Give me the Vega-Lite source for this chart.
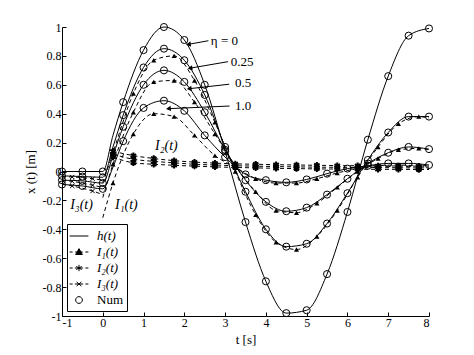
{
  "$schema": "https://vega.github.io/schema/vega-lite/v6.json",
  "width": 367,
  "height": 289,
  "autosize": "none",
  "padding": {"left": 62, "top": 27, "right": 45, "bottom": 39},
  "config": {
    "view": {"stroke": null},
    "font": "Liberation Serif, Times New Roman, serif",
    "axis": {
      "grid": false,
      "domainColor": "black",
      "tickColor": "black",
      "labelColor": "black",
      "titleColor": "black",
      "labelFont": "Liberation Serif, Times New Roman, serif",
      "titleFont": "Liberation Serif, Times New Roman, serif",
      "labelFontSize": 12,
      "titleFontSize": 13,
      "titleFontWeight": "normal",
      "tickSize": -4,
      "labelPadding": 5
    }
  },
  "datasets": {
    "h": [
      {"eta": "0", "t": -1, "v": 0}, {"eta": "0", "t": -0.5, "v": 0}, {"eta": "0", "t": 0, "v": 0}, {"eta": "0", "t": 0.25, "v": 0.25},
      {"eta": "0", "t": 0.5, "v": 0.48}, {"eta": "0", "t": 1, "v": 0.84}, {"eta": "0", "t": 1.5, "v": 1.0}, {"eta": "0", "t": 2, "v": 0.91},
      {"eta": "0", "t": 2.5, "v": 0.6}, {"eta": "0", "t": 3, "v": 0.14}, {"eta": "0", "t": 3.5, "v": -0.35}, {"eta": "0", "t": 4, "v": -0.76},
      {"eta": "0", "t": 4.5, "v": -0.98}, {"eta": "0", "t": 5, "v": -0.96}, {"eta": "0", "t": 5.5, "v": -0.71}, {"eta": "0", "t": 6, "v": -0.28},
      {"eta": "0", "t": 6.5, "v": 0.22}, {"eta": "0", "t": 7, "v": 0.66}, {"eta": "0", "t": 7.5, "v": 0.94}, {"eta": "0", "t": 8, "v": 0.99},

      {"eta": "0.25", "t": -1, "v": -0.03}, {"eta": "0.25", "t": -0.5, "v": -0.035}, {"eta": "0.25", "t": 0, "v": -0.04}, {"eta": "0.25", "t": 0.25, "v": 0.17},
      {"eta": "0.25", "t": 0.5, "v": 0.39}, {"eta": "0.25", "t": 1, "v": 0.72}, {"eta": "0.25", "t": 1.5, "v": 0.85}, {"eta": "0.25", "t": 2, "v": 0.77},
      {"eta": "0.25", "t": 2.5, "v": 0.53}, {"eta": "0.25", "t": 3, "v": 0.17}, {"eta": "0.25", "t": 3.5, "v": -0.14}, {"eta": "0.25", "t": 4, "v": -0.4},
      {"eta": "0.25", "t": 4.5, "v": -0.52}, {"eta": "0.25", "t": 5, "v": -0.5}, {"eta": "0.25", "t": 5.5, "v": -0.36}, {"eta": "0.25", "t": 6, "v": -0.15},
      {"eta": "0.25", "t": 6.5, "v": 0.08}, {"eta": "0.25", "t": 7, "v": 0.27}, {"eta": "0.25", "t": 7.5, "v": 0.38}, {"eta": "0.25", "t": 8, "v": 0.38},

      {"eta": "0.5", "t": -1, "v": -0.06}, {"eta": "0.5", "t": -0.5, "v": -0.065}, {"eta": "0.5", "t": 0, "v": -0.08}, {"eta": "0.5", "t": 0.25, "v": 0.11},
      {"eta": "0.5", "t": 0.5, "v": 0.31}, {"eta": "0.5", "t": 1, "v": 0.6}, {"eta": "0.5", "t": 1.5, "v": 0.7}, {"eta": "0.5", "t": 2, "v": 0.62},
      {"eta": "0.5", "t": 2.5, "v": 0.41}, {"eta": "0.5", "t": 3, "v": 0.15}, {"eta": "0.5", "t": 3.5, "v": -0.06}, {"eta": "0.5", "t": 4, "v": -0.21},
      {"eta": "0.5", "t": 4.5, "v": -0.275}, {"eta": "0.5", "t": 5, "v": -0.25}, {"eta": "0.5", "t": 5.5, "v": -0.16}, {"eta": "0.5", "t": 6, "v": -0.05},
      {"eta": "0.5", "t": 6.5, "v": 0.055}, {"eta": "0.5", "t": 7, "v": 0.13}, {"eta": "0.5", "t": 7.5, "v": 0.17}, {"eta": "0.5", "t": 8, "v": 0.155},

      {"eta": "1.0", "t": -1, "v": -0.09}, {"eta": "1.0", "t": -0.5, "v": -0.1}, {"eta": "1.0", "t": 0, "v": -0.12}, {"eta": "1.0", "t": 0.25, "v": 0.03},
      {"eta": "1.0", "t": 0.5, "v": 0.21}, {"eta": "1.0", "t": 1, "v": 0.44}, {"eta": "1.0", "t": 1.5, "v": 0.49}, {"eta": "1.0", "t": 2, "v": 0.42},
      {"eta": "1.0", "t": 2.5, "v": 0.25}, {"eta": "1.0", "t": 3, "v": 0.1}, {"eta": "1.0", "t": 3.5, "v": -0.02}, {"eta": "1.0", "t": 4, "v": -0.06},
      {"eta": "1.0", "t": 4.5, "v": -0.075}, {"eta": "1.0", "t": 5, "v": -0.055}, {"eta": "1.0", "t": 5.5, "v": -0.015}, {"eta": "1.0", "t": 6, "v": 0.02},
      {"eta": "1.0", "t": 6.5, "v": 0.04}, {"eta": "1.0", "t": 7, "v": 0.056}, {"eta": "1.0", "t": 7.5, "v": 0.056}, {"eta": "1.0", "t": 8, "v": 0.045}
    ],
    "i1": [
      {"eta": "0.25", "t": 0, "v": -0.08}, {"eta": "0.25", "t": 0.25, "v": 0.13}, {"eta": "0.25", "t": 0.75, "v": 0.54}, {"eta": "0.25", "t": 1.25, "v": 0.77},
      {"eta": "0.25", "t": 1.75, "v": 0.8}, {"eta": "0.25", "t": 2.25, "v": 0.63}, {"eta": "0.25", "t": 2.75, "v": 0.34}, {"eta": "0.25", "t": 3.25, "v": 0.0},
      {"eta": "0.25", "t": 3.75, "v": -0.3}, {"eta": "0.25", "t": 4.25, "v": -0.49}, {"eta": "0.25", "t": 4.75, "v": -0.54}, {"eta": "0.25", "t": 5.25, "v": -0.45},
      {"eta": "0.25", "t": 5.75, "v": -0.27}, {"eta": "0.25", "t": 6.25, "v": -0.04}, {"eta": "0.25", "t": 6.75, "v": 0.17}, {"eta": "0.25", "t": 7.25, "v": 0.33},
      {"eta": "0.25", "t": 7.75, "v": 0.38}, {"eta": "0.25", "t": 8, "v": 0.37},

      {"eta": "0.5", "t": 0, "v": -0.18}, {"eta": "0.5", "t": 0.25, "v": 0.05}, {"eta": "0.5", "t": 0.75, "v": 0.41}, {"eta": "0.5", "t": 1.25, "v": 0.62},
      {"eta": "0.5", "t": 1.75, "v": 0.63}, {"eta": "0.5", "t": 2.25, "v": 0.48}, {"eta": "0.5", "t": 2.75, "v": 0.26}, {"eta": "0.5", "t": 3.25, "v": 0.04},
      {"eta": "0.5", "t": 3.75, "v": -0.14}, {"eta": "0.5", "t": 4.25, "v": -0.27}, {"eta": "0.5", "t": 4.75, "v": -0.285}, {"eta": "0.5", "t": 5.25, "v": -0.22},
      {"eta": "0.5", "t": 5.75, "v": -0.11}, {"eta": "0.5", "t": 6.25, "v": 0.0}, {"eta": "0.5", "t": 6.75, "v": 0.09}, {"eta": "0.5", "t": 7.25, "v": 0.15},
      {"eta": "0.5", "t": 7.75, "v": 0.16}, {"eta": "0.5", "t": 8, "v": 0.15},

      {"eta": "1.0", "t": 0, "v": -0.32}, {"eta": "1.0", "t": 0.25, "v": -0.08}, {"eta": "1.0", "t": 0.75, "v": 0.26}, {"eta": "1.0", "t": 1.25, "v": 0.4},
      {"eta": "1.0", "t": 1.75, "v": 0.38}, {"eta": "1.0", "t": 2.25, "v": 0.25}, {"eta": "1.0", "t": 2.75, "v": 0.11}, {"eta": "1.0", "t": 3.25, "v": 0.03},
      {"eta": "1.0", "t": 3.75, "v": -0.05}, {"eta": "1.0", "t": 4.25, "v": -0.08}, {"eta": "1.0", "t": 4.75, "v": -0.08}, {"eta": "1.0", "t": 5.25, "v": -0.05},
      {"eta": "1.0", "t": 5.75, "v": -0.01}, {"eta": "1.0", "t": 6.25, "v": 0.02}, {"eta": "1.0", "t": 6.75, "v": 0.04}, {"eta": "1.0", "t": 7.25, "v": 0.045},
      {"eta": "1.0", "t": 7.75, "v": 0.04}, {"eta": "1.0", "t": 8, "v": 0.04}
    ],
    "i2": [
      {"eta": "0.25", "t": 0.25, "v": 0.14}, {"eta": "0.25", "t": 0.75, "v": 0.11}, {"eta": "0.25", "t": 1.25, "v": 0.09}, {"eta": "0.25", "t": 1.75, "v": 0.075},
      {"eta": "0.25", "t": 2.25, "v": 0.065}, {"eta": "0.25", "t": 2.75, "v": 0.058}, {"eta": "0.25", "t": 3.25, "v": 0.053}, {"eta": "0.25", "t": 3.75, "v": 0.05},
      {"eta": "0.25", "t": 4.25, "v": 0.047}, {"eta": "0.25", "t": 4.75, "v": 0.045}, {"eta": "0.25", "t": 5.25, "v": 0.043}, {"eta": "0.25", "t": 5.75, "v": 0.041},
      {"eta": "0.25", "t": 6.25, "v": 0.04}, {"eta": "0.25", "t": 6.75, "v": 0.039}, {"eta": "0.25", "t": 7.25, "v": 0.038}, {"eta": "0.25", "t": 7.75, "v": 0.037},
      {"eta": "0.25", "t": 8, "v": 0.037},

      {"eta": "0.5", "t": 0.25, "v": 0.12}, {"eta": "0.5", "t": 0.75, "v": 0.085}, {"eta": "0.5", "t": 1.25, "v": 0.07}, {"eta": "0.5", "t": 1.75, "v": 0.06},
      {"eta": "0.5", "t": 2.25, "v": 0.05}, {"eta": "0.5", "t": 2.75, "v": 0.045}, {"eta": "0.5", "t": 3.25, "v": 0.04}, {"eta": "0.5", "t": 3.75, "v": 0.037},
      {"eta": "0.5", "t": 4.25, "v": 0.034}, {"eta": "0.5", "t": 4.75, "v": 0.032}, {"eta": "0.5", "t": 5.25, "v": 0.03}, {"eta": "0.5", "t": 5.75, "v": 0.029},
      {"eta": "0.5", "t": 6.25, "v": 0.028}, {"eta": "0.5", "t": 6.75, "v": 0.027}, {"eta": "0.5", "t": 7.25, "v": 0.026}, {"eta": "0.5", "t": 7.75, "v": 0.025},
      {"eta": "0.5", "t": 8, "v": 0.025},

      {"eta": "1.0", "t": 0.25, "v": 0.1}, {"eta": "1.0", "t": 0.75, "v": 0.06}, {"eta": "1.0", "t": 1.25, "v": 0.05}, {"eta": "1.0", "t": 1.75, "v": 0.043},
      {"eta": "1.0", "t": 2.25, "v": 0.037}, {"eta": "1.0", "t": 2.75, "v": 0.032}, {"eta": "1.0", "t": 3.25, "v": 0.028}, {"eta": "1.0", "t": 3.75, "v": 0.025},
      {"eta": "1.0", "t": 4.25, "v": 0.022}, {"eta": "1.0", "t": 4.75, "v": 0.02}, {"eta": "1.0", "t": 5.25, "v": 0.018}, {"eta": "1.0", "t": 5.75, "v": 0.017},
      {"eta": "1.0", "t": 6.25, "v": 0.016}, {"eta": "1.0", "t": 6.75, "v": 0.015}, {"eta": "1.0", "t": 7.25, "v": 0.015}, {"eta": "1.0", "t": 7.75, "v": 0.014},
      {"eta": "1.0", "t": 8, "v": 0.014}
    ],
    "i3": [
      {"eta": "0.25", "t": -1, "v": -0.035}, {"eta": "0.25", "t": -0.75, "v": -0.038}, {"eta": "0.25", "t": -0.25, "v": -0.05}, {"eta": "0.25", "t": 0, "v": -0.06},
      {"eta": "0.5", "t": -1, "v": -0.06}, {"eta": "0.5", "t": -0.75, "v": -0.068}, {"eta": "0.5", "t": -0.25, "v": -0.095}, {"eta": "0.5", "t": 0, "v": -0.11},
      {"eta": "1.0", "t": -1, "v": -0.085}, {"eta": "1.0", "t": -0.75, "v": -0.1}, {"eta": "1.0", "t": -0.25, "v": -0.135}, {"eta": "1.0", "t": 0, "v": -0.16}
    ],
    "arrows": [
      {"t": 2.59, "v": 0.905, "t2": 2.1, "v2": 0.88},
      {"t": 3.07, "v": 0.76, "t2": 2.14, "v2": 0.715},
      {"t": 3.1, "v": 0.604, "t2": 2.12, "v2": 0.573},
      {"t": 3.11, "v": 0.453, "t2": 1.61, "v2": 0.435}
    ],
    "labels": [
      {"t": 2.65, "v": 0.9, "label": "η = 0"},
      {"t": 3.14, "v": 0.76, "label": "0.25"},
      {"t": 3.24, "v": 0.615, "label": "0.5"},
      {"t": 3.24, "v": 0.45, "label": "1.0"}
    ],
    "ilabels": [
      {"t": 1.28, "v": 0.175, "label": "I₂(t)"},
      {"t": -0.8, "v": -0.23, "label": "I₃(t)"},
      {"t": 0.3, "v": -0.23, "label": "I₁(t)"}
    ],
    "legend": [
      {"s": "h(t)"}, {"s": "I₁(t)"}, {"s": "I₂(t)"}, {"s": "I₃(t)"}, {"s": "Num"}
    ]
  },
  "encoding": {
    "x": {"field": "t", "type": "quantitative", "scale": {"domain": [-1, 8], "nice": false, "zero": false},
      "axis": {"values": [-1, 0, 1, 2, 3, 4, 5, 6, 7, 8], "title": "t  [s]", "titlePadding": 5, "labelExpr": "toString(datum.value)"}},
    "y": {"field": "v", "type": "quantitative", "scale": {"domain": [-1, 1], "nice": false, "zero": false},
      "axis": {"values": [-1, -0.8, -0.6, -0.4, -0.2, 0, 0.2, 0.4, 0.6, 0.8, 1], "title": "x (t)  [m]", "titlePadding": 5, "labelExpr": "toString(round(datum.value*10)/10)"}}
  },
  "layer": [
    {"data": {"name": "h"}, "mark": {"type": "line", "color": "black", "strokeWidth": 1, "interpolate": "monotone"},
      "encoding": {"detail": {"field": "eta"}}},
    {"data": {"name": "h"}, "transform": [{"filter": "datum.t != 0.25"}],
      "mark": {"type": "point", "shape": "circle", "size": 50, "filled": false, "stroke": "black", "strokeWidth": 1, "opacity": 1}},
    {"data": {"name": "i1"}, "mark": {"type": "line", "color": "black", "strokeWidth": 1, "strokeDash": [4, 3], "interpolate": "monotone"},
      "encoding": {"detail": {"field": "eta"}}},
    {"data": {"name": "i1"}, "transform": [{"filter": "datum.t > 0 && datum.t < 8"}],
      "mark": {"type": "point", "shape": "triangle-up", "size": 26, "filled": true, "color": "black", "opacity": 1}},
    {"data": {"name": "i2"}, "mark": {"type": "line", "color": "black", "strokeWidth": 1, "strokeDash": [4, 3], "interpolate": "monotone"},
      "encoding": {"detail": {"field": "eta"}}},
    {"data": {"name": "i2"}, "transform": [{"filter": "datum.t < 8"}],
      "mark": {"type": "point", "shape": "M0,-1V1M-0.87,-0.5L0.87,0.5M-0.87,0.5L0.87,-0.5", "size": 40, "filled": false, "stroke": "black", "strokeWidth": 2, "opacity": 1}},
    {"data": {"name": "i3"}, "mark": {"type": "line", "color": "black", "strokeWidth": 1, "strokeDash": [4, 3], "interpolate": "monotone"},
      "encoding": {"detail": {"field": "eta"}}},
    {"data": {"name": "i3"}, "transform": [{"filter": "datum.t > -1 && datum.t < 0"}],
      "mark": {"type": "point", "shape": "M-1,-1L1,1M-1,1L1,-1", "size": 18, "filled": false, "stroke": "black", "strokeWidth": 1, "opacity": 1}},
    {"data": {"name": "arrows"}, "mark": {"type": "rule", "color": "black", "strokeWidth": 1},
      "encoding": {"x2": {"field": "t2"}, "y2": {"field": "v2"}}},
    {"data": {"name": "arrows"}, "mark": {"type": "point", "shape": "triangle-left", "size": 30, "filled": true, "color": "black", "angle": -7, "opacity": 1},
      "encoding": {"x": {"field": "t2", "type": "quantitative"}, "y": {"field": "v2", "type": "quantitative"}}},
    {"data": {"name": "labels"}, "mark": {"type": "text", "align": "left", "baseline": "middle", "font": "Liberation Serif, Times New Roman, serif", "fontSize": 13, "color": "black"},
      "encoding": {"text": {"field": "label"}}},
    {"data": {"name": "ilabels"}, "mark": {"type": "text", "align": "left", "baseline": "middle", "font": "Liberation Serif, Times New Roman, serif", "fontStyle": "italic", "fontSize": 14, "color": "black"},
      "encoding": {"text": {"field": "label"}}},
    {"data": {"name": "legend"}, "mark": {"type": "point", "filled": true, "opacity": 0},
      "encoding": {
        "x": {"value": 0}, "y": {"value": 0},
        "shape": {"field": "s", "type": "nominal",
          "scale": {"domain": ["h(t)", "I₁(t)", "I₂(t)", "I₃(t)", "Num"],
            "range": [
              "M-1.25,0H1.25",
              "M-1.25,0H-0.85M-0.5,0H0.5M0.85,0H1.25M0,-0.45L0.45,0.33L-0.45,0.33Z",
              "M-1.25,0H-0.85M-0.55,0H0.55M0.85,0H1.25M0,-0.42V0.42M-0.36,-0.21L0.36,0.21M-0.36,0.21L0.36,-0.21",
              "M-1.25,0H-0.85M-0.55,0H0.55M0.85,0H1.25M-0.32,-0.28L0.32,0.28M-0.32,0.28L0.32,-0.28",
              "M0.45,0A0.45,0.45 0 1,1 -0.45,0A0.45,0.45 0 1,1 0.45,0Z"
            ]},
          "legend": {"title": null, "orient": "bottom-left", "offset": 5, "strokeColor": "black", "fillColor": "white", "padding": 4,
            "symbolSize": 225, "symbolStrokeWidth": 1, "symbolStrokeColor": "black", "symbolOpacity": 1,
            "labelFont": "Liberation Serif, Times New Roman, serif", "labelFontSize": 13, "labelFontStyle": "italic", "labelOffset": 10, "rowPadding": 1,
            "encode": {
              "symbols": {"update": {"stroke": {"value": "black"}, "strokeWidth": {"value": 1}, "opacity": {"value": 1}}},
              "labels": {"update": {"fontStyle": [{"test": "datum.label == 'Num'", "value": "normal"}, {"value": "italic"}]}}
            }}},
        "fill": {"field": "s", "type": "nominal",
          "scale": {"domain": ["h(t)", "I₁(t)", "I₂(t)", "I₃(t)", "Num"], "range": ["black", "black", "black", "black", "white"]},
          "legend": {"title": null, "orient": "bottom-left", "offset": 5, "strokeColor": "black", "fillColor": "white", "padding": 4,
            "symbolSize": 225, "symbolStrokeWidth": 1, "symbolStrokeColor": "black", "symbolOpacity": 1,
            "labelFont": "Liberation Serif, Times New Roman, serif", "labelFontSize": 13, "labelFontStyle": "italic", "labelOffset": 10, "rowPadding": 1,
            "encode": {
              "symbols": {"update": {"stroke": {"value": "black"}, "strokeWidth": {"value": 1}, "opacity": {"value": 1}}},
              "labels": {"update": {"fontStyle": [{"test": "datum.label == 'Num'", "value": "normal"}, {"value": "italic"}]}}
            }}}
      }}
  ]
}
